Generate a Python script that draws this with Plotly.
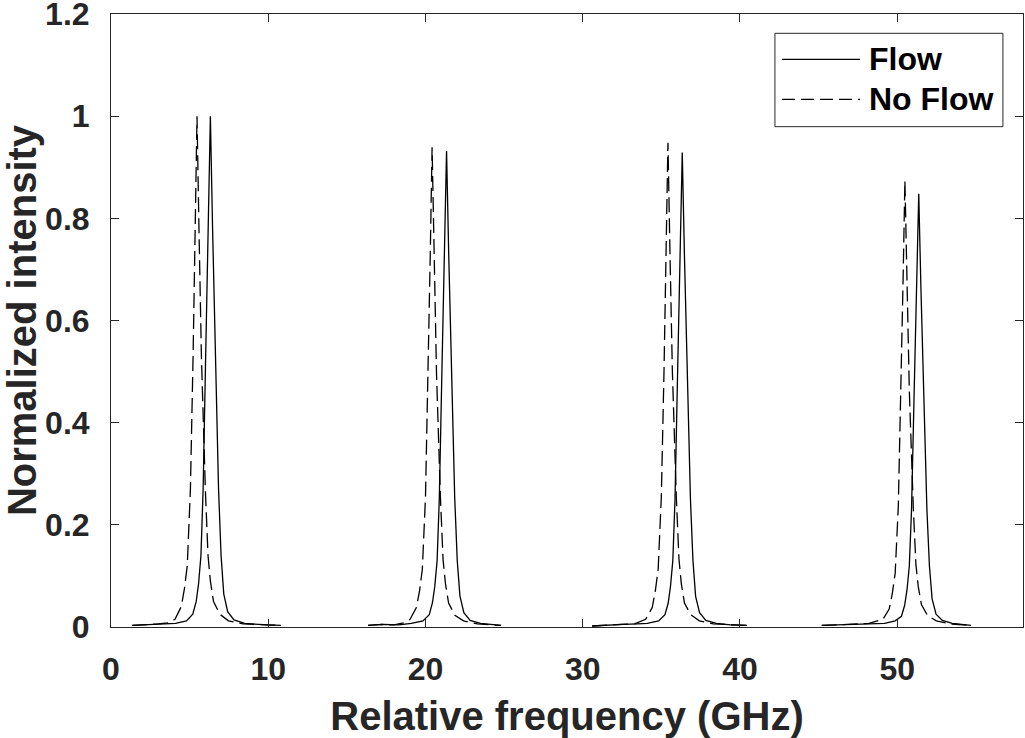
import plotly.graph_objects as go

# ---- Data (GHz, normalized intensity) ----
flow_x1 = [1.35, 2.3, 3.3, 4.1, 4.8, 5.2, 5.42, 5.57, 5.72, 5.86, 6.02, 6.18, 6.32, 6.46, 6.64, 6.84, 7.0, 7.17, 7.42, 7.82, 8.5, 9.3, 10.0, 10.8]
flow_y1 = [0.003, 0.004, 0.005, 0.007, 0.012, 0.025, 0.05, 0.085, 0.14, 0.27, 0.53, 0.78, 1.0, 0.78, 0.53, 0.27, 0.14, 0.065, 0.03, 0.014, 0.007, 0.005, 0.004, 0.003]
flow_x2 = [16.35, 17.3, 18.3, 19.1, 19.84, 20.24, 20.44, 20.59, 20.74, 20.88, 21.04, 21.2, 21.34, 21.48, 21.66, 21.86, 22.02, 22.19, 22.44, 22.84, 23.5, 24.2, 24.8]
flow_y2 = [0.003, 0.005, 0.004, 0.007, 0.012, 0.024, 0.047, 0.079, 0.13, 0.252, 0.494, 0.727, 0.932, 0.727, 0.494, 0.252, 0.13, 0.061, 0.028, 0.013, 0.007, 0.005, 0.003]
flow_x3 = [30.6, 31.6, 32.6, 33.5, 34.1, 34.83, 35.23, 35.43, 35.58, 35.73, 35.87, 36.03, 36.19, 36.33, 36.47, 36.65, 36.85, 37.01, 37.18, 37.43, 37.83, 38.5, 39.4, 40.45]
flow_y3 = [0.002, 0.004, 0.005, 0.006, 0.007, 0.012, 0.024, 0.046, 0.079, 0.13, 0.251, 0.492, 0.725, 0.929, 0.725, 0.492, 0.251, 0.13, 0.06, 0.028, 0.013, 0.007, 0.004, 0.003]
flow_x4 = [45.2, 46.2, 47.2, 48.2, 49.2, 49.87, 50.27, 50.47, 50.62, 50.77, 50.91, 51.07, 51.23, 51.37, 51.51, 51.69, 51.89, 52.05, 52.22, 52.47, 52.87, 53.5, 54.1, 54.7]
flow_y4 = [0.003, 0.004, 0.005, 0.005, 0.007, 0.012, 0.021, 0.042, 0.072, 0.119, 0.229, 0.449, 0.661, 0.848, 0.661, 0.449, 0.229, 0.119, 0.055, 0.025, 0.013, 0.007, 0.005, 0.003]

noflow_x1 = [1.35, 2.2, 3.0, 3.6, 4.07, 4.47, 4.67, 4.85, 5.05, 5.22, 5.35, 5.47, 5.6, 5.75, 6.0, 6.17, 6.32, 6.52, 6.92, 7.47, 8.4, 9.5, 10.8]
noflow_y1 = [0.003, 0.004, 0.006, 0.008, 0.015, 0.04, 0.075, 0.12, 0.27, 0.53, 0.77, 1.0, 0.77, 0.53, 0.27, 0.14, 0.09, 0.05, 0.025, 0.012, 0.006, 0.004, 0.003]
noflow_x2 = [16.35, 17.2, 18.0, 18.6, 19.02, 19.42, 19.62, 19.8, 20.0, 20.17, 20.3, 20.42, 20.55, 20.7, 20.95, 21.12, 21.27, 21.47, 21.87, 22.42, 23.3, 24.0, 24.8]
noflow_y2 = [0.003, 0.005, 0.004, 0.008, 0.015, 0.038, 0.07, 0.113, 0.254, 0.498, 0.723, 0.939, 0.723, 0.498, 0.254, 0.131, 0.085, 0.047, 0.023, 0.012, 0.006, 0.004, 0.003]
noflow_x3 = [30.6, 31.5, 32.4, 33.3, 34.0, 34.42, 34.62, 34.8, 35.0, 35.17, 35.3, 35.42, 35.55, 35.7, 35.95, 36.12, 36.27, 36.47, 36.87, 37.42, 38.3, 39.3, 40.45]
noflow_y3 = [0.002, 0.004, 0.005, 0.006, 0.015, 0.038, 0.071, 0.114, 0.256, 0.502, 0.73, 0.948, 0.73, 0.502, 0.256, 0.133, 0.085, 0.047, 0.024, 0.012, 0.006, 0.004, 0.003]
noflow_x4 = [45.2, 46.2, 47.2, 48.2, 49.09, 49.49, 49.69, 49.87, 50.07, 50.24, 50.37, 50.49, 50.62, 50.77, 51.02, 51.19, 51.34, 51.54, 51.94, 52.49, 53.4, 54.7]
noflow_y4 = [0.003, 0.004, 0.005, 0.007, 0.015, 0.035, 0.066, 0.105, 0.236, 0.463, 0.673, 0.874, 0.673, 0.463, 0.236, 0.122, 0.079, 0.044, 0.022, 0.012, 0.006, 0.003]

x_ticks = [0, 10, 20, 30, 40, 50]
y_ticks = [0, 0.2, 0.4, 0.6, 0.8, 1.0, 1.2]
y_tick_labels = ["0", "0.2", "0.4", "0.6", "0.8", "1", "1.2"]


def join(*segs):
    out = []
    for i, s in enumerate(segs):
        if i:
            out.append(None)
        out.extend(s)
    return out


AX = "#262626"
FONT = "Liberation Sans, Arial, sans-serif"

fig = go.Figure()
fig.add_trace(go.Scatter(
    x=join(flow_x1, flow_x2, flow_x3, flow_x4),
    y=join(flow_y1, flow_y2, flow_y3, flow_y4),
    mode="lines", name="Flow", connectgaps=False,
    line=dict(color="black", width=1.3), showlegend=False))
fig.add_trace(go.Scatter(
    x=join(noflow_x1, noflow_x2, noflow_x3, noflow_x4),
    y=join(noflow_y1, noflow_y2, noflow_y3, noflow_y4),
    mode="lines", name="No Flow", connectgaps=False,
    line=dict(color="black", width=1.3, dash="15px,6px"), showlegend=False))

axis_common = dict(
    showline=True, linecolor=AX, linewidth=1, mirror="ticks",
    ticks="inside", ticklen=8, tickcolor=AX, tickwidth=1,
    showgrid=False, zeroline=False, ticklabeloverflow="allow",
    automargin=False,
    tickfont=dict(family=FONT, size=32, color=AX, weight="bold"),
)

fig.update_xaxes(range=[0, 58], tickvals=x_ticks, ticklabelstandoff=14,
                 title=dict(text="Relative frequency (GHz)", standoff=16,
                            font=dict(family=FONT, size=40, color=AX, weight="bold")),
                 **axis_common)
fig.update_yaxes(range=[0, 1.2], tickvals=y_ticks, ticktext=y_tick_labels,
                 ticklabelstandoff=14,
                 title=dict(text="Normalized intensity", standoff=10,
                            font=dict(family=FONT, size=40, color=AX, weight="bold")),
                 **axis_common)

# Legend drawn as in the MATLAB figure (long line samples)
lx0, lx1, ly0, ly1 = 0.728, 0.978, 0.8162, 0.9685
fig.add_shape(type="rect", xref="paper", yref="paper", x0=lx0, x1=lx1, y0=ly0, y1=ly1,
              line=dict(color=AX, width=1), fillcolor="white", layer="above")
fig.add_shape(type="line", xref="paper", yref="paper", x0=0.7357, x1=0.8213, y0=0.9261, y1=0.9261,
              line=dict(color="black", width=1.3))
fig.add_shape(type="line", xref="paper", yref="paper", x0=0.7357, x1=0.8213, y0=0.8608, y1=0.8608,
              line=dict(color="black", width=1.3, dash="13px,6px"))
for txt, yy in [("Flow", 0.9261), ("No Flow", 0.8608)]:
    fig.add_annotation(xref="paper", yref="paper", x=0.8286, y=yy, text=txt,
                       showarrow=False, xanchor="left", yanchor="middle",
                       font=dict(family=FONT, size=32, color="black", weight="bold"))

fig.update_layout(
    width=1025, height=738,
    margin=dict(l=111, r=2, t=14, b=111),
    paper_bgcolor="white", plot_bgcolor="white",
    showlegend=False,
)

fig.write_html("out.html")
